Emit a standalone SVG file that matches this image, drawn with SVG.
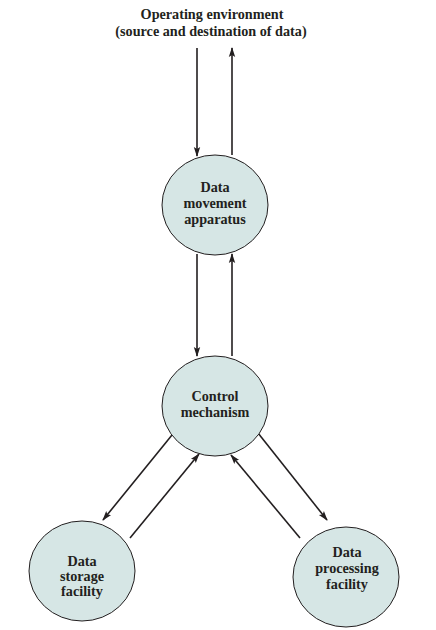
<svg xmlns="http://www.w3.org/2000/svg" width="436" height="630" viewBox="0 0 436 630">
<style>
.node{fill:#d6e6e5;stroke:#231f20;stroke-width:1}
.t{font-family:"Liberation Serif","Times New Roman",serif;font-weight:bold;font-size:14.2px;fill:#231f20;text-anchor:middle}
.c{stroke:#231f20;stroke-width:1.6;fill:none;marker-end:url(#ah)}
</style>
<defs>
<marker id="ah" markerWidth="10" markerHeight="8" refX="9" refY="4" orient="auto" markerUnits="userSpaceOnUse">
<path d="M0,0.8 L10,4 L0,7.2 L2,4 Z" fill="#231f20"/>
</marker>
</defs>
<rect width="436" height="630" fill="#fff"/>
<g id="title">
<text class="t" x="212" y="19" font-size="15px">Operating environment</text>
<text class="t" x="211" y="36" font-size="15px">(source and destination of data)</text>
</g>
<g id="connectors">
<line class="c" x1="197" y1="48" x2="197" y2="156"/>
<line class="c" x1="232" y1="155" x2="232" y2="48"/>
<line class="c" x1="197" y1="254" x2="197" y2="356"/>
<line class="c" x1="232" y1="356" x2="232" y2="254"/>
<line class="c" x1="172" y1="435" x2="103" y2="520"/>
<line class="c" x1="130" y1="538" x2="199" y2="454"/>
<line class="c" x1="258" y1="433" x2="327" y2="520"/>
<line class="c" x1="300" y1="538" x2="231" y2="455"/>
</g>
<g id="data-movement">
<ellipse class="node" cx="215" cy="205" rx="53" ry="50"/>
<text class="t" x="215" y="192">Data</text>
<text class="t" x="215" y="208">movement</text>
<text class="t" x="215" y="224">apparatus</text>
</g>
<g id="control">
<ellipse class="node" cx="215" cy="406" rx="53" ry="50"/>
<text class="t" x="215" y="401">Control</text>
<text class="t" x="215" y="417">mechanism</text>
</g>
<g id="storage">
<ellipse class="node" cx="82" cy="571" rx="53" ry="50"/>
<text class="t" x="82" y="566">Data</text>
<text class="t" x="82" y="581">storage</text>
<text class="t" x="82" y="596">facility</text>
</g>
<g id="processing">
<ellipse class="node" cx="346" cy="577" rx="53" ry="50"/>
<text class="t" x="347" y="557">Data</text>
<text class="t" x="347" y="573">processing</text>
<text class="t" x="347" y="589">facility</text>
</g>
</svg>
